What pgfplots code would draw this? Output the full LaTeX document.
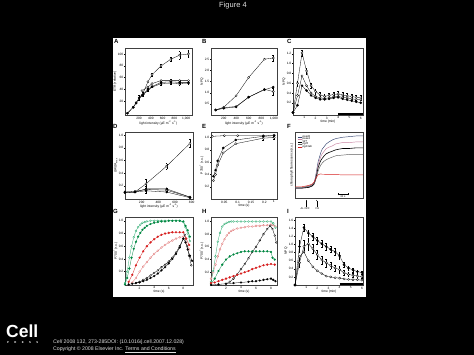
\documentclass[border=0pt]{standalone}
\usepackage{fontspec}
\setmainfont{Liberation Sans}
\usepackage{pgfplots}
\pgfplotsset{compat=1.18}
\usetikzlibrary{arrows.meta}
\definecolor{gdark}{RGB}{0,135,65}
\definecolor{glight}{RGB}{40,170,110}
\definecolor{rdark}{RGB}{215,30,30}
\definecolor{rlight}{RGB}{225,120,120}
\definecolor{cpsad}{RGB}{55,70,115}
\definecolor{cpsae}{RGB}{200,130,160}
\definecolor{cpgr}{RGB}{95,95,95}
\definecolor{txtgray}{RGB}{225,225,225}
\pgfplotsset{
  panel/.style={
    scale only axis, clip=false,
    axis line style={line width=0.3pt, black!75},
    every tick/.style={line width=0.3pt, black},
    tick align=outside, major tick length=1pt,
    tick pos=left,
    tick label style={font=\fontsize{3.2}{3.5}\selectfont, /pgf/number format/assume math mode=true},
    xticklabel style={inner sep=0.6pt},
    yticklabel style={inner sep=0.6pt},
    label style={font=\fontsize{3.3}{3.6}\selectfont},
    xlabel style={inner sep=0.5pt},
    ylabel style={inner sep=0.5pt},
    every axis plot/.append style={line width=0.3pt},
  },
  oc/.style={black, mark=*, mark size=1.1pt, mark options={fill=white, solid, line width=0.3pt}},
  fc/.style={black, mark=*, mark size=1.1pt, mark options={fill=black, solid}},
  eb/.style={error bars/.cd, y dir=both, y explicit,
    error bar style={line width=0.25pt, black},
    error mark options={rotate=90, mark size=0.8pt, line width=0.25pt, black}},
  fix1/.style={yticklabel style={/pgf/number format/.cd, fixed, fixed zerofill, precision=1}},
}
\begin{document}
\begin{tikzpicture}[x=1pt,y=1pt]
\useasboundingbox (0,0) rectangle (474,355);
\fill[black] (0,0) rectangle (474,355);
\fill[white] (113,58) rectangle (366,317);
\node[txtgray, font=\fontsize{7.5}{8}\selectfont, anchor=base] at (233,347.5) {Figure 4};
% Cell logo
\node[white, font=\fontsize{17.5}{18}\selectfont\bfseries, anchor=base west, inner sep=0pt] at (6,17) {Cell};
\node[white, font=\fontsize{2.8}{3}\selectfont\bfseries, anchor=base west, inner sep=0pt] at (7,11) {\makebox[31pt][s]{P\hfill R\hfill E\hfill S\hfill S}};
\node[txtgray, font=\fontsize{5.2}{6}\selectfont, anchor=base west, inner sep=0pt] at (53,11.5) {\textit{Cell} 2008 132, 273-285DOI: (10.1016/j.cell.2007.12.028)};
\node[txtgray, font=\fontsize{5.2}{6}\selectfont, anchor=base west, inner sep=0pt] at (53,4.5) {Copyright © 2008 Elsevier Inc. \underline{Terms and Conditions}};
% panel letters
\foreach \l/\px/\py in {A/114/311,B/202/311,C/287/311,D/113/226,E/202/226,F/287/226,G/113/141,H/202/141,I/287/141}
  \node[font=\fontsize{6}{6}\selectfont\bfseries, anchor=base west, inner sep=0pt] at (\px,\py) {\l};

% ---------- A ----------
\begin{axis}[panel, at={(125pt,240pt)}, anchor=south west, width=67pt, height=67pt,
  xmin=-40, xmax=1100, ymin=-3, ymax=110,
  xtick={200,400,600,800,1000}, ytick={20,40,60,80,100},
  xlabel={light intensity (µE m\textsuperscript{-2} s\textsuperscript{-1})}, ylabel={ETR (relative)}]
\addplot[oc, eb] coordinates {(0,0) (100,10) (150,18) (250,30) (350,53) (420,65) +- (0,3) (575,80) +- (0,3) (740,91) +- (0,3) (890,98) +- (0,6) (1040,100) +- (0,6)};
\addplot[oc] coordinates {(250,38) (350,44) (420,50) (575,55) (740,55) (890,55) (1040,55)};
\addplot[black, mark=triangle*, mark size=1.2pt, mark options={fill=black}] coordinates {(250,30) (350,38) (420,44) (575,50) (740,51) (890,50) (1040,51)};
\addplot[fc, eb] coordinates {(0,0) (100,10) (150,17) (200,26) +- (0,4) (270,32) +- (0,4) (350,40) +- (0,3) (420,45) (575,52) +- (0,4) (740,53) +- (0,4) (890,52) +- (0,4) (1040,52) +- (0,3)};
\end{axis}

% ---------- B ----------
\begin{axis}[panel, fix1, at={(211pt,240pt)}, anchor=south west, width=66pt, height=67pt,
  xmin=-5, xmax=1050, ymin=0, ymax=3.0,
  xtick={200,400,600,800,1000}, ytick={0.5,1.0,1.5,2.0,2.5},
  xlabel={light intensity (µE m\textsuperscript{-2} s\textsuperscript{-1})}, ylabel={NPQ}]
\addplot[oc, eb] coordinates {(70,0.23) (200,0.35) (396,0.86) (597,1.68) (850,2.5) (990,2.55) +- (0,0.12)};
\addplot[oc, eb] coordinates {(70,0.22) (200,0.33) (396,0.38) (597,0.8) (850,1.15) (990,1.05) +- (0,0.15)};
\addplot[fc] coordinates {(70,0.22) (200,0.3) (396,0.36) (597,0.8) (850,1.13) (990,1.25)};
\end{axis}

% ---------- C ----------
\begin{axis}[panel, fix1, at={(293pt,240pt)}, anchor=south west, width=70pt, height=67pt,
  xmin=0, xmax=6.2, ymin=-0.05, ymax=1.32,
  xtick={1,2,3,4,5,6}, ytick={0.2,0.4,0.6,0.8,1.0,1.2},
  xlabel={time (min)}, ylabel={NPQ}]
\addplot[black, line width=1.5pt, forget plot] coordinates {(4,-0.025) (6.2,-0.025)};
\addplot[oc, eb] coordinates {(0,0) (0.4,0.6) +- (0,0.05) (0.8,1.22) +- (0,0.06) (1.2,0.85) +- (0,0.06) (1.6,0.55) +- (0,0.05) (2.0,0.43) +- (0,0.05) (2.4,0.36) +- (0,0.05) (2.8,0.33) +- (0,0.05) (3.2,0.35) +- (0,0.05) (3.6,0.37) +- (0,0.05) (4.0,0.38) +- (0,0.05) (4.4,0.36) +- (0,0.05) (4.8,0.34) +- (0,0.05) (5.2,0.33) +- (0,0.05) (5.6,0.31) +- (0,0.05) (6.0,0.3) +- (0,0.05)};
\addplot[oc] coordinates {(0,0) (0.4,0.35) (0.8,0.75) (1.2,0.55) (1.6,0.4) (2.0,0.33) (2.4,0.3) (2.8,0.29) (3.2,0.3) (3.6,0.32) (4.0,0.33) (4.4,0.31) (4.8,0.3) (5.2,0.28) (5.6,0.27) (6.0,0.26)};
\addplot[fc] coordinates {(0,0) (0.4,0.15) (0.8,0.55) (1.2,0.45) (1.6,0.35) (2.0,0.3) (2.4,0.27) (2.8,0.27) (3.2,0.28) (3.6,0.3) (4.0,0.31) (4.4,0.28) (4.8,0.26) (5.2,0.24) (5.6,0.22) (6.0,0.2)};
\end{axis}

% ---------- D ----------
\begin{axis}[panel, fix1, at={(125pt,156pt)}, anchor=south west, width=68pt, height=67pt,
  xmin=0, xmax=816, ymin=-0.01, ymax=1.05,
  xtick={200,400,600,800}, ytick={0.2,0.4,0.6,0.8,1.0},
  xlabel={light intensity (µE m\textsuperscript{-2} s\textsuperscript{-1})}, ylabel={ΔA/ΔA\textsubscript{max}}]
\addplot[oc, eb] coordinates {(0,0.09) (120,0.1) (252,0.23) +- (0,0.07) (500,0.51) +- (0,0.04) (780,0.87) +- (0,0.06)};
\addplot[oc, eb] coordinates {(0,0.1) (120,0.11) (252,0.14) +- (0,0.05) (500,0.13) +- (0,0.03) (780,0.02)};
\addplot[black, mark=triangle*, mark size=1.2pt] coordinates {(0,0.1) (120,0.1) (252,0.15) (500,0.15) (780,0.02)};
\addplot[fc] coordinates {(0,0.09) (120,0.1) (252,0.12) (500,0.1) (780,0.01)};
\end{axis}

% ---------- E ----------
\begin{axis}[panel, fix1, at={(211pt,156pt)}, anchor=south west, width=66pt, height=67pt,
  xmin=0, xmax=0.2475, ymin=0, ymax=1.09,
  xtick={0.05,0.1,0.15,0.2,0.235}, xticklabels={0.05,0.1,0.15,0.2,1},
  ytick={0.2,0.4,0.6,0.8,1.0},
  xlabel={time (s)}, ylabel={P700\textsuperscript{+} (r.u.)}]
\addplot[oc] coordinates {(0.005,1.02) (0.05,1.03) (0.1,1.03) (0.196,1.03) (0.237,1.04)};
\addplot[oc, eb] coordinates {(0.009,0.3) (0.017,0.4) (0.025,0.55) (0.046,0.75) (0.093,0.9) (0.196,0.99) +- (0,0.03) (0.237,1.0) +- (0,0.03)};
\addplot[fc] coordinates {(0.009,0.37) (0.017,0.47) (0.025,0.62) (0.046,0.83) (0.093,0.96) (0.196,1.02) (0.237,1.03)};
\end{axis}

% ---------- F ----------
\begin{axis}[panel, at={(295pt,157pt)}, anchor=south west, width=68pt, height=66pt,
  xmin=0, xmax=100, ymin=0, ymax=1.0, xtick=\empty, ytick=\empty,
  ylabel={chlorophyll fluorescence (r.u.)},
  legend style={at={(0.03,0.97)}, anchor=north west, draw=none, fill=none,
    font=\fontsize{2.8}{3}\selectfont\itshape, row sep=-1.8pt, inner sep=0.3pt,
    nodes={inner sep=0.5pt}},
  legend cell align=left,
  legend image code/.code={\draw[#1] (0pt,0pt) -- (4pt,0pt);}]
\addplot[cpsad, line width=0.45pt] coordinates {(0,0.15) (10,0.15) (20,0.17) (25,0.19) (28,0.23) (30,0.31) (32,0.43) (34,0.55) (36,0.62) (38,0.69) (40,0.74) (43,0.78) (46,0.82) (50,0.85) (55,0.88) (60,0.9) (70,0.92) (80,0.93) (90,0.94) (100,0.94)};
\addlegendentry{psad1}
\addplot[cpsae, line width=0.45pt] coordinates {(0,0.15) (10,0.15) (20,0.16) (25,0.19) (28,0.22) (30,0.29) (32,0.4) (34,0.5) (36,0.57) (38,0.63) (40,0.67) (43,0.71) (46,0.75) (50,0.77) (55,0.79) (60,0.82) (70,0.84) (80,0.84) (90,0.85) (100,0.85)};
\addlegendentry{psae1}
\addplot[black, line width=0.6pt] coordinates {(0,0.15) (10,0.15) (20,0.16) (25,0.18) (28,0.21) (30,0.27) (32,0.36) (34,0.46) (36,0.52) (38,0.57) (40,0.6) (43,0.64) (46,0.67) (50,0.69) (55,0.71) (60,0.73) (70,0.75) (80,0.75) (90,0.76) (100,0.76)};
\addlegendentry{WT}
\addplot[cpgr, line width=0.45pt] coordinates {(0,0.16) (10,0.16) (20,0.18) (25,0.2) (28,0.22) (30,0.26) (32,0.33) (34,0.41) (36,0.46) (38,0.5) (40,0.53) (43,0.56) (46,0.58) (50,0.6) (55,0.62) (60,0.64) (70,0.65) (80,0.66) (90,0.66) (100,0.66)};
\addlegendentry{pgr5}
\addplot[rdark, line width=0.45pt] coordinates {(0,0.17) (10,0.17) (20,0.19) (25,0.21) (28,0.24) (30,0.28) (32,0.32) (34,0.35) (36,0.36) (38,0.365) (40,0.36) (43,0.36) (46,0.355) (50,0.355) (55,0.355) (60,0.355) (70,0.35) (80,0.35) (90,0.35) (100,0.35)};
\addlegendentry{pgrl1ab}
\draw[line width=0.3pt, -{Stealth[length=1.2pt,width=1pt]}] (axis cs:17,-0.13) -- (axis cs:17,-0.03);
\draw[line width=0.3pt, -{Stealth[length=1.2pt,width=1pt]}] (axis cs:32,-0.13) -- (axis cs:32,-0.03);
\node[font=\fontsize{2.6}{3}\selectfont, anchor=north, inner sep=0.3pt] at (axis cs:15,-0.14) {AL OFF};
\node[font=\fontsize{2.6}{3}\selectfont, anchor=north, inner sep=0.3pt] at (axis cs:33,-0.14) {FR};
\draw[line width=0.3pt] (axis cs:63,0.06) -- (axis cs:78,0.06);
\draw[line width=0.3pt] (axis cs:63,0.045) -- (axis cs:63,0.075);
\draw[line width=0.3pt] (axis cs:78,0.045) -- (axis cs:78,0.075);
\node[font=\fontsize{2.6}{3}\selectfont, anchor=north, inner sep=0.3pt] at (axis cs:70.5,0.04) {30 s};
\end{axis}

% ---------- G ----------
\begin{axis}[panel, fix1, at={(125pt,70pt)}, anchor=south west, width=68pt, height=68pt,
  xmin=0, xmax=9.33, ymin=-0.01, ymax=1.06,
  xtick={2,4,6,8}, ytick={0.2,0.4,0.6,0.8,1.0},
  xlabel={time (s)}, ylabel={P700\textsuperscript{+} (r.u.)},
  every axis plot/.append style={mark size=0.95pt}]
\addplot[rlight, mark=*, mark size=0.95pt, mark options={fill=white, solid}] coordinates {(1,0.03) (1.5,0.1) (2,0.2) (2.5,0.28) (3,0.35) (3.5,0.42) (4,0.48) (4.5,0.53) (5,0.58) (5.5,0.62) (6,0.66) (6.5,0.69) (7,0.72) (7.5,0.74) (8,0.75) (8.4,0.65) (8.8,0.55)};
\addplot[black, mark=*, mark size=0.95pt, mark options={fill=white, solid}] coordinates {(1.5,0.02) (2,0.04) (2.5,0.07) (3,0.1) (3.5,0.14) (4,0.18) (4.5,0.22) (5,0.27) (5.5,0.31) (6,0.36) (6.5,0.42) (7,0.5) (7.5,0.6) (8,0.72) (8.2,0.78) (8.5,0.6) (8.8,0.45) (9.1,0.3)};
\addplot[black, mark=*, mark size=0.95pt, mark options={fill=black}] coordinates {(0.5,0) (1,0.01) (1.5,0.02) (2,0.03) (2.5,0.05) (3,0.07) (3.5,0.1) (4,0.13) (4.5,0.17) (5,0.22) (5.5,0.27) (6,0.33) (6.5,0.4) (7,0.48) (7.5,0.58) (8,0.72) (8.3,0.66) (8.6,0.55) (8.9,0.45) (9.2,0.37)};
\addplot[rdark, mark=*, mark size=0.95pt, mark options={fill=rdark}] coordinates {(0.5,0.04) (1,0.15) (1.5,0.3) (2,0.42) (2.5,0.52) (3,0.6) (3.5,0.66) (4,0.71) (4.5,0.75) (5,0.78) (5.5,0.8) (6,0.81) (6.5,0.82) (7,0.82) (7.5,0.82) (8,0.82) (8.4,0.72) (8.8,0.62)};
\addplot[glight, mark=*, mark size=0.95pt, mark options={fill=white, solid}] coordinates {(0,0.02) (0.3,0.2) (0.6,0.42) (0.9,0.6) (1.2,0.74) (1.5,0.84) (1.8,0.9) (2.1,0.94) (2.4,0.97) (2.7,0.98) (3,0.99) (3.5,1) (4,1) (4.5,1) (5,1) (5.5,1) (6,1) (6.5,1) (7,1) (7.5,1) (8,0.98) (8.3,0.9) (8.6,0.8) (8.9,0.68)};
\addplot[gdark, mark=*, mark size=0.95pt, mark options={fill=gdark}] coordinates {(0,0) (0.3,0.1) (0.6,0.25) (0.9,0.42) (1.2,0.56) (1.5,0.67) (1.8,0.75) (2.1,0.81) (2.4,0.86) (2.7,0.89) (3,0.92) (3.5,0.95) (4,0.97) (4.5,0.98) (5,0.99) (5.5,0.99) (6,1) (6.5,1) (7,1) (7.5,1) (8,0.99) (8.3,0.92) (8.6,0.85) (8.9,0.75)};
\end{axis}

% ---------- H ----------
\begin{axis}[panel, fix1, at={(211pt,70pt)}, anchor=south west, width=66pt, height=68pt,
  xmin=0, xmax=8.8, ymin=0, ymax=1.07,
  xtick={2,4,6,8}, ytick={0.2,0.4,0.6,0.8,1.0},
  xlabel={time (s)}, ylabel={P700\textsuperscript{+} (r.u.)}]
\addplot[rlight, mark=*, mark size=0.95pt, mark options={fill=white, solid}] coordinates {(0,0.1) (0.3,0.2) (0.6,0.32) (0.9,0.45) (1.2,0.56) (1.5,0.65) (1.8,0.72) (2.1,0.78) (2.4,0.82) (2.7,0.85) (3,0.87) (3.5,0.89) (4,0.9) (4.5,0.91) (5,0.92) (5.5,0.92) (6,0.93) (6.5,0.93) (7,0.94) (7.5,0.94) (8,0.95) (8.3,0.94) (8.6,0.92)};
\addplot[glight, mark=*, mark size=0.95pt, mark options={fill=white, solid}] coordinates {(0,0.05) (0.3,0.22) (0.6,0.45) (0.9,0.68) (1.2,0.82) (1.5,0.92) (1.8,0.96) (2.1,0.98) (2.4,0.99) (2.7,1) (3,1) (3.5,1) (4,1) (4.5,1) (5,1) (5.5,1) (6,1) (6.5,1) (7,1) (7.5,1) (8,1) (8.3,0.97) (8.6,0.9)};
\addplot[black, mark=*, mark size=0.95pt, mark options={fill=white, solid}] coordinates {(2,0.02) (2.5,0.05) (3,0.1) (3.5,0.17) (4,0.25) (4.5,0.33) (5,0.42) (5.5,0.52) (6,0.6) (6.5,0.7) (7,0.8) (7.5,0.88) (7.9,0.93) (8.2,0.88) (8.5,0.78) (8.7,0.67)};
\addplot[gdark, mark=*, mark size=0.95pt, mark options={fill=gdark}] coordinates {(0,0.02) (0.5,0.1) (1,0.22) (1.5,0.32) (2,0.4) (2.5,0.45) (3,0.48) (3.5,0.5) (4,0.52) (4.5,0.53) (5,0.53) (5.5,0.53) (6,0.53) (6.5,0.53) (7,0.53) (7.5,0.53) (8,0.52) (8.2,0.43) (8.5,0.4)};
\addplot[rdark, mark=*, mark size=0.95pt, mark options={fill=rdark}] coordinates {(0,0.03) (0.5,0.04) (1,0.06) (1.5,0.08) (2,0.1) (2.5,0.12) (3,0.14) (3.5,0.16) (4,0.18) (4.5,0.2) (5,0.22) (5.5,0.25) (6,0.27) (6.5,0.29) (7,0.31) (7.5,0.32) (8,0.33) (8.5,0.32)};
\addplot[black, mark=*, mark size=0.95pt, mark options={fill=black}] coordinates {(0,0) (1,0.01) (2,0.02) (3,0.03) (4,0.04) (5,0.05) (5.5,0.06) (6,0.06) (6.5,0.07) (7,0.08) (7.5,0.09) (8,0.1) (8.3,0.08) (8.6,0.06)};
\end{axis}

% ---------- I ----------
\begin{axis}[panel, fix1, at={(295pt,70pt)}, anchor=south west, width=68pt, height=68pt,
  xmin=0, xmax=6.1, ymin=0, ymax=1.68,
  xtick={1,2,3,4,5,6}, ytick={0.2,0.4,0.6,0.8,1.0,1.2,1.4,1.6},
  xlabel={time (min)}, ylabel={NPQ}]
\addplot[black, line width=1.6pt, forget plot] coordinates {(4,0.02) (6.1,0.02)};
\addplot[oc, eb] coordinates {(0,0) (0.4,0.55) +- (0,0.12) (0.8,0.95) +- (0,0.15) (1.2,1.02) +- (0,0.15) (1.6,0.9) +- (0,0.12) (2.0,0.75) +- (0,0.12) (2.4,0.62) +- (0,0.1) (2.8,0.55) +- (0,0.1) (3.2,0.48) +- (0,0.08) (3.6,0.42) +- (0,0.08) (4.0,0.38) +- (0,0.08) (4.4,0.3) +- (0,0.06) (4.8,0.26) +- (0,0.05) (5.2,0.24) +- (0,0.05) (5.6,0.22) +- (0,0.05) (6.0,0.21) +- (0,0.05)};
\addplot[oc] coordinates {(0,0) (0.4,0.7) (0.8,0.82) (1.2,0.6) (1.6,0.45) (2.0,0.35) (2.4,0.28) (2.8,0.22) (3.2,0.2) (3.6,0.18) (4.0,0.17) (4.4,0.15) (4.8,0.14) (5.2,0.13) (5.6,0.13) (6.0,0.12)};
\addplot[fc, eb] coordinates {(0,0) (0.4,0.95) +- (0,0.15) (0.8,1.42) +- (0,0.08) (1.2,1.28) +- (0,0.08) (1.6,1.2) +- (0,0.08) (2.0,1.1) +- (0,0.08) (2.4,1.02) +- (0,0.08) (2.8,0.95) +- (0,0.08) (3.2,0.88) +- (0,0.08) (3.6,0.82) +- (0,0.08) (4.0,0.72) +- (0,0.08) (4.4,0.5) +- (0,0.06) (4.8,0.42) +- (0,0.05) (5.2,0.37) +- (0,0.04) (5.6,0.33) +- (0,0.04) (6.0,0.31) +- (0,0.04)};
\end{axis}
\end{tikzpicture}
\end{document}
